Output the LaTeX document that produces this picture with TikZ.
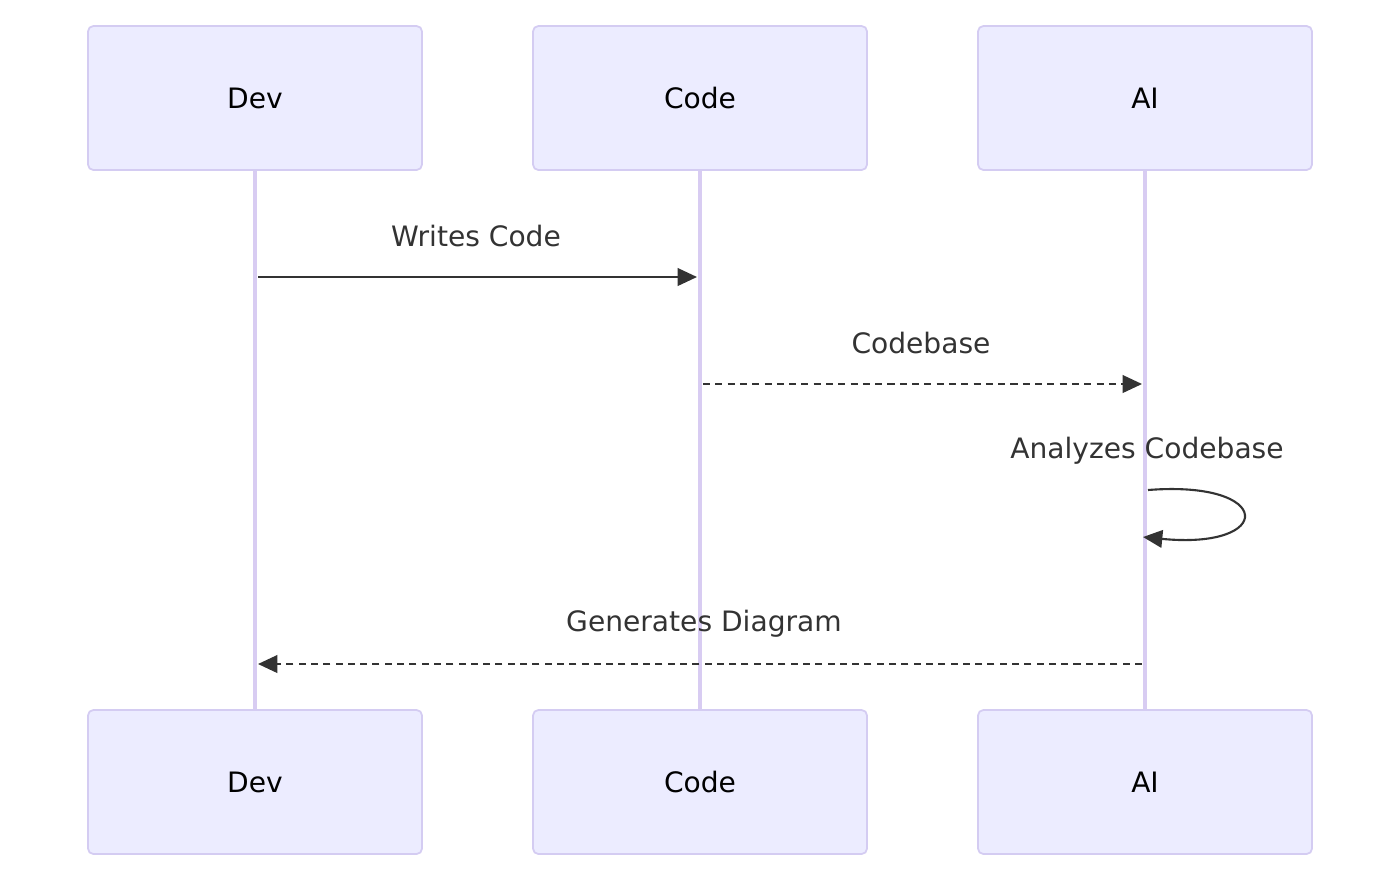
\documentclass[tikz,border=0pt]{standalone}
\usepackage{fontspec}
\setmainfont{DejaVu Sans}
\usepackage{xcolor}
\usetikzlibrary{arrows.meta}
\definecolor{actorfill}{HTML}{ECECFF}
\definecolor{actorline}{HTML}{D4CCF2}
\definecolor{lifeline}{HTML}{D8CCF2}
\definecolor{ink}{HTML}{333333}
\begin{document}
\begin{tikzpicture}[x=0.02cm, y=-0.02cm]
            % Define styles
            \tikzstyle{actor} = [rectangle, rounded corners=3pt, minimum width=6.68cm, minimum height=2.88cm, draw=actorline, line width=1pt, fill=actorfill, text=black, font=\fontsize{16}{20}\selectfont]
            \tikzstyle{msg} = [text=ink, font=\fontsize{16}{20}\selectfont]
            \tikzstyle{arrow} = [draw=ink, line width=1.2pt, -{Triangle[length=11pt, width=10pt]}]
            \tikzstyle{reply} = [arrow, dash pattern=on 4pt off 3pt]
            \useasboundingbox (0,0) rectangle (1395,887);

            % Actors top and bottom
            \node (devtop) [actor] at (255,98) {Dev};
            \node (codetop) [actor] at (700,98) {Code};
            \node (aitop) [actor] at (1145,98) {AI};
            \node (devbot) [actor] at (255,782) {Dev};
            \node (codebot) [actor] at (700,782) {Code};
            \node (aibot) [actor] at (1145,782) {AI};

            % Lifelines
            \draw [lifeline, line width=2pt] (devtop) -- (devbot);
            \draw [lifeline, line width=2pt] (codetop) -- (codebot);
            \draw [lifeline, line width=2pt] (aitop) -- (aibot);

            % Message end points
            \coordinate (w1) at (258,277);
            \coordinate (w2) at (697,277);
            \coordinate (c1) at (703,384);
            \coordinate (c2) at (1142,384);
            \coordinate (s1) at (1148,490);
            \coordinate (s2) at (1143,537);
            \coordinate (g1) at (1142,664);
            \coordinate (g2) at (258,664);

            % Messages
            \draw [arrow] (w1) -- (w2);
            \node (writes) [msg] at (476,236) {Writes Code};
            \draw [reply] (c1) -- (c2);
            \node (codebase) [msg] at (921,343) {Codebase};
            \draw [arrow] (s1) .. controls (1275,480) and (1275,550) .. (s2);
            \node (analyzes) [msg] at (1147,451) {Analyzes Codebase};
            \draw [reply] (g1) -- (g2);
            \node (generates) [msg] at (704,624) {Generates Diagram};
        \end{tikzpicture}
\end{document}
